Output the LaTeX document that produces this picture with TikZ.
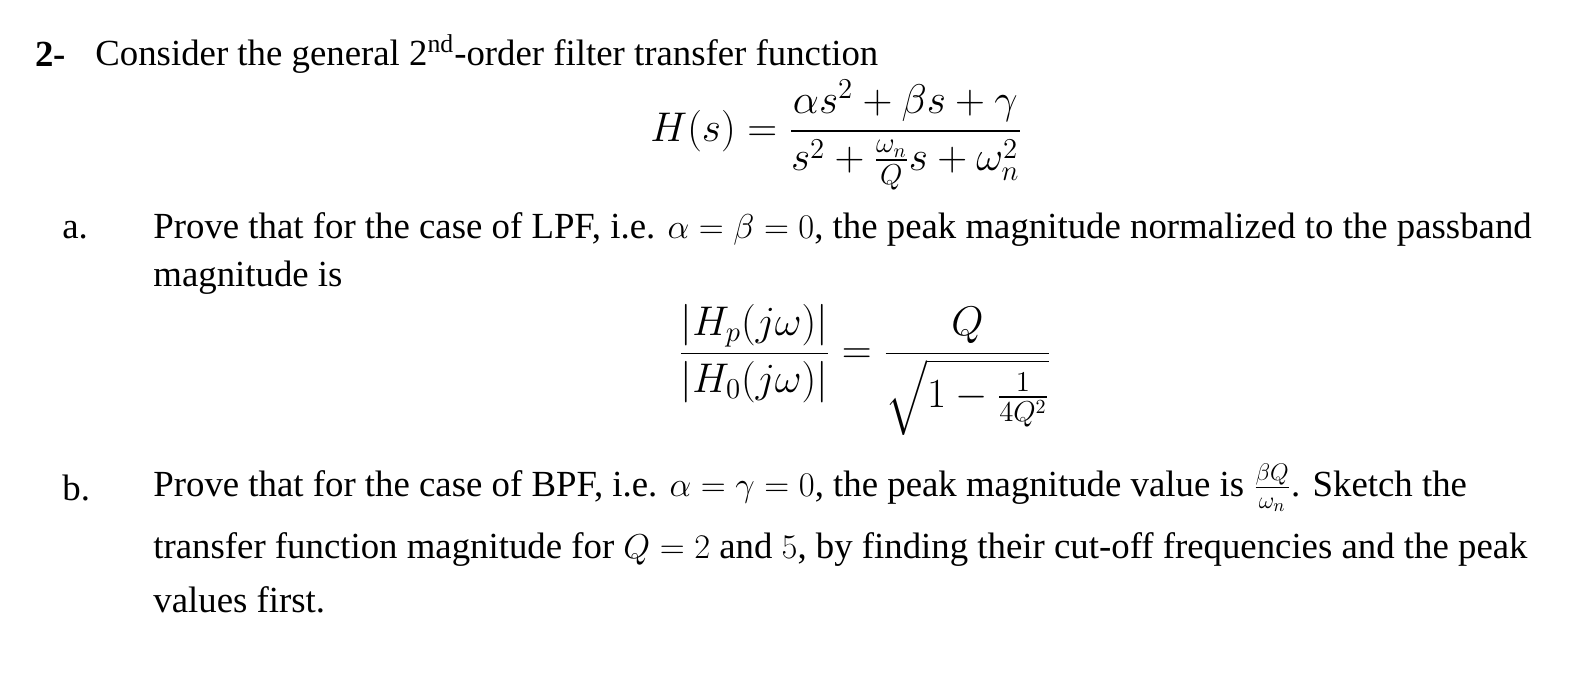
\documentclass[tikz,border=0pt]{standalone}
\usepackage{fontspec}
\setmainfont{Liberation Serif}
\usepackage{amsmath}
\begin{document}
\begin{tikzpicture}[x=0.5pt,y=-0.5pt,
  txt/.style={anchor=west,inner sep=0pt,font=\fontsize{18.4}{22}\selectfont},
  eqn/.style={anchor=west,inner sep=0pt,font=\fontsize{19.5}{23}\selectfont}]
\useasboundingbox (0,0) rectangle (1594,686);
\node[txt,font=\fontsize{18.4}{22}\selectfont\bfseries] (n2) at (35,54) {2-};
\node[txt] (l1) at (95,54) {Consider the general 2\textsuperscript{nd}-order filter transfer function};
\node[eqn] (eq1) at (650,135) {$\displaystyle H(s)=\frac{\alpha s^2+\beta s+\gamma}{s^2+\frac{\omega_n}{Q}s+\omega_n^2}$};
\node[txt] (a) at (62,230) {a.};
\node[txt] (la1) at (153,230) {Prove that for the case of LPF, i.e. $\alpha=\beta=0$, the peak magnitude normalized to the passband};
\node[txt] (la2) at (153,278) {magnitude is};
\node[eqn] (eq2) at (678,370) {$\displaystyle \frac{|H_p(j\omega)|}{|H_0(j\omega)|}=\frac{Q}{\sqrt{1-\frac{1}{4Q^2}}}$};
\node[txt] (b) at (62,488) {b.};
\node[txt] (lb1) at (153,488) {Prove that for the case of BPF, i.e. $\alpha=\gamma=0$, the peak magnitude value is $\frac{\beta Q}{\omega_n}$. Sketch the};
\node[txt] (lb2) at (153,550) {transfer function magnitude for $Q=2$ and $5$, by finding their cut-off frequencies and the peak};
\node[txt] (lb3) at (153,600) {values first.};
\end{tikzpicture}
\end{document}
